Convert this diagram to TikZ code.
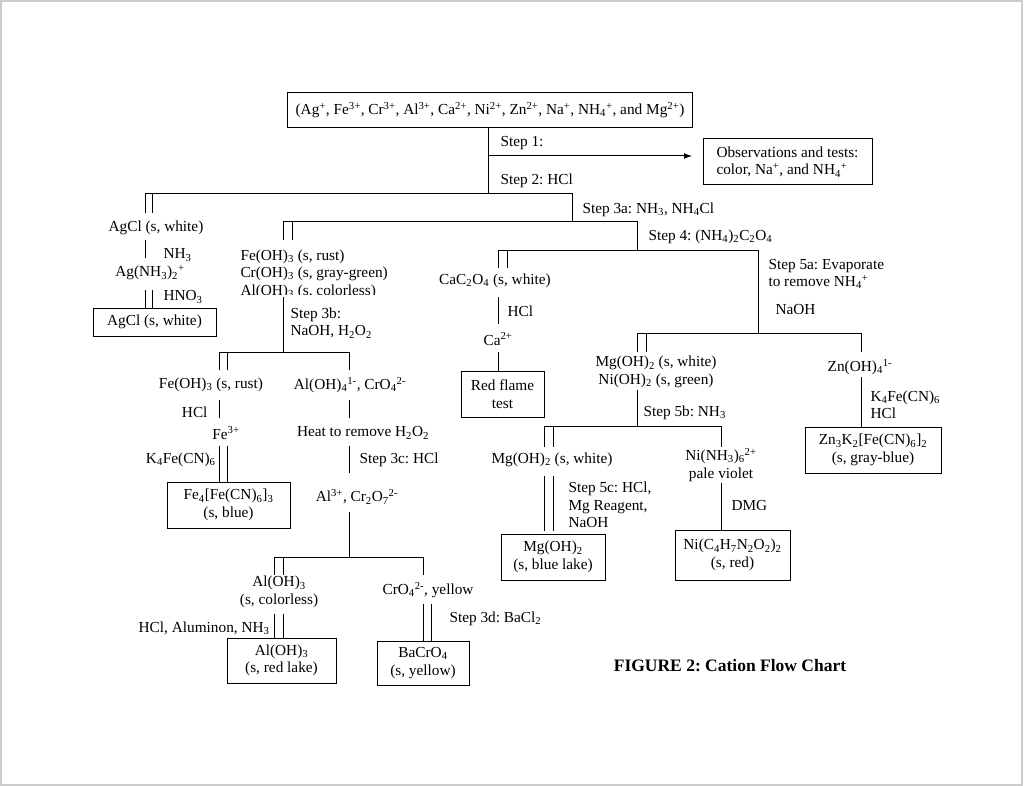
\documentclass[tikz,border=0pt]{standalone}
\usepackage{fontspec}
\setmainfont{Liberation Serif}
\usetikzlibrary{arrows.meta}
\newcommand\myd[1]{\textsubscript{#1}}
\newcommand\myu[1]{\textsuperscript{#1}}
\begin{document}
\frenchspacing
\begin{tikzpicture}[x=1pt,y=-1pt,line width=1pt,
  every node/.style={font=\fontsize{15.3}{17.5}\selectfont,inner sep=0pt},
  lt/.style={anchor=west,align=left}]
\useasboundingbox (0,0) rectangle (1024,786);
\draw[gray!40,line width=1.2pt] (1,1) rectangle (1022,785);
% top
\node[draw,minimum width=405,minimum height=35] (top) at (490,110) {(Ag\myu{+}, Fe\myu{3+}, Cr\myu{3+}, Al\myu{3+}, Ca\myu{2+}, Ni\myu{2+}, Zn\myu{2+}, Na\myu{+}, NH\myd{4}\myu{+}, and Mg\myu{2+})};
\node[draw,minimum width=169,minimum height=46,align=left] (obs) at (787.5,162) {Observations and tests:\\color, Na\myu{+}, and NH\myd{4}\myu{+}};
\node[lt] (s1) at (500,143) {Step 1:};
\node[lt] (s2) at (500,181) {Step 2: HCl};
\coordinate (j1) at (488,156);
\coordinate (j2) at (692,156);
\draw (top.south -| j1) -- (488,194);
\draw[-{Latex[length=8pt,width=6pt]}] (j1) -- (j2);
\draw (145,213) -- (145,194) -- (572,194) -- (572,222);
\draw (152,194) -- (152,213);
\node[lt] (s3a) at (582,210) {Step 3a: NH\myd{3}, NH\myd{4}Cl};
\draw (283,240) -- (283,222) -- (637,222) -- (637,250);
\draw (292,222) -- (292,240);
\node[lt] (s4) at (648,237) {Step 4: (NH\myd{4})\myd{2}C\myd{2}O\myd{4}};
\draw (498,268) -- (498,250) -- (758,250) -- (758,333);
\draw (507,250) -- (507,268);
\node[lt] (s5a) at (768,274) {Step 5a: Evaporate\\to remove NH\myd{4}\myu{+}};
\node[lt] (naoh) at (775,310) {NaOH};
% Ag branch
\node (agcl1) at (156,228) {AgCl (s, white)};
\draw (145,240) -- (145,258);
\node[lt] (nh3) at (163,255) {NH\myd{3}};
\node (agnh) at (150,273) {Ag(NH\myd{3})\myd{2}\myu{+}};
\draw (145,290) -- (145,308); \draw (152,290) -- (152,308);
\node[lt] (hno) at (163,297) {HNO\myd{3}};
\node[draw,minimum width=123,minimum height=28] (agcl2) at (154.5,322) {AgCl (s, white)};
% group 3
\node[lt] (g3a) at (240,257) {Fe(OH)\myd{3} (s, rust)};
\node[lt] (g3b) at (240,274) {Cr(OH)\myd{3} (s, gray-green)};
\node[lt] (g3c) at (240,292) {Al(OH)\myd{3} (s, colorless)};
\fill[white] (238,295) rectangle (420,305);
\draw (283,297) -- (283,352);
\node[lt] (s3b) at (290,323) {Step 3b:\\NaOH, H\myd{2}O\myd{2}};
\draw (219,370) -- (219,352) -- (349,352) -- (349,370);
\draw (227,352) -- (227,370);
\node (feoh) at (211,385) {Fe(OH)\myd{3} (s, rust)};
\node (aloh4) at (350,385) {Al(OH)\myd{4}\myu{1-}, CrO\myd{4}\myu{2-}};
\draw (219,400) -- (219,418);
\node[anchor=east] (hcl1) at (208,412) {HCl};
\node (fe3) at (226,433) {Fe\myu{3+}};
\draw (219,446) -- (219,482); \draw (227,446) -- (227,482);
\node[anchor=east] (k4) at (216,460) {K\myd{4}Fe(CN)\myd{6}};
\node[draw,minimum width=123,minimum height=46,align=center] (prus) at (228.5,505) {Fe\myd{4}[Fe(CN)\myd{6}]\myd{3}\\(s, blue)};
\draw (349,400) -- (349,418);
\node (heat) at (363,433) {Heat to remove H\myd{2}O\myd{2}};
\draw (349,446) -- (349,473);
\node[lt] (s3c) at (359,460) {Step 3c: HCl};
\node (al3) at (357,497) {Al\myu{3+}, Cr\myd{2}O\myd{7}\myu{2-}};
\draw (349,512) -- (349,557);
\draw (274,575) -- (274,557) -- (423,557) -- (423,575);
\draw (283,557) -- (283,575);
\node[align=center] (aloh3) at (279,592) {Al(OH)\myd{3}\\(s, colorless)};
\node (cro4) at (428,590) {CrO\myd{4}\myu{2-}, yellow};
\draw (274,614) -- (274,638); \draw (283,614) -- (283,638);
\node[anchor=east] (alum) at (270,628) {HCl, Aluminon, NH\myd{3}};
\node[draw,minimum width=109,minimum height=45,align=center] (allake) at (281.5,660.5) {Al(OH)\myd{3}\\(s, red lake)};
\draw (423,604) -- (423,641); \draw (431,604) -- (431,641);
\node[lt] (s3d) at (449,619) {Step 3d: BaCl\myd{2}};
\node[draw,minimum width=92,minimum height=44,align=center] (ba) at (423,663) {BaCrO\myd{4}\\(s, yellow)};
% Ca
\node (cac) at (495,281) {CaC\myd{2}O\myd{4} (s, white)};
\draw (498,297) -- (498,324);
\node[lt] (hcl2) at (507,311) {HCl};
\node (ca) at (498,339) {Ca\myu{2+}};
\node[draw,minimum width=83,minimum height=46,align=center] (flame) at (502.5,394) {Red flame\\test};
\draw (498,352) -- (498,371);
% Mg Ni Zn
\draw (637,352) -- (637,333) -- (861,333) -- (861,352);
\draw (646,333) -- (646,352);
\node[align=center] (mgni) at (656,372) {Mg(OH)\myd{2} (s, white)\\Ni(OH)\myd{2} (s, green)};
\draw (637,390) -- (637,426);
\node[lt] (s5b) at (643,413) {Step 5b: NH\myd{3}};
\draw (544,447) -- (544,426) -- (721,426) -- (721,447);
\draw (553,426) -- (553,447);
\node (mg2) at (552,460) {Mg(OH)\myd{2} (s, white)};
\draw (544,476) -- (544,531); \draw (553,476) -- (553,531);
\node[lt] (s5c) at (568,505) {Step 5c: HCl,\\Mg Reagent,\\NaOH};
\node[draw,minimum width=104,minimum height=46,align=center] (mglake) at (553,557) {Mg(OH)\myd{2}\\(s, blue lake)};
\node[align=center] (ninh) at (721,465) {Ni(NH\myd{3})\myd{6}\myu{2+}\\pale violet};
\draw (721,483) -- (721,530);
\node[lt] (dmg) at (731,506) {DMG};
\node[draw,minimum width=115,minimum height=50,align=center] (nidmg) at (732.5,555) {Ni(C\myd{4}H\myd{7}N\myd{2}O\myd{2})\myd{2}\\(s, red)};
\node (zn) at (860,367) {Zn(OH)\myd{4}\myu{1-}};
\draw (861,377) -- (861,427);
\node[lt] (k4b) at (870,405) {K\myd{4}Fe(CN)\myd{6}\\HCl};
\node[draw,minimum width=136,minimum height=46,align=center] (znk) at (873,450) {Zn\myd{3}K\myd{2}[Fe(CN)\myd{6}]\myd{2}\\(s, gray-blue)};
\node[font=\fontsize{17.5}{20}\selectfont\bfseries] (fig) at (730,666) {FIGURE 2: Cation Flow Chart};
\end{tikzpicture}
\end{document}
